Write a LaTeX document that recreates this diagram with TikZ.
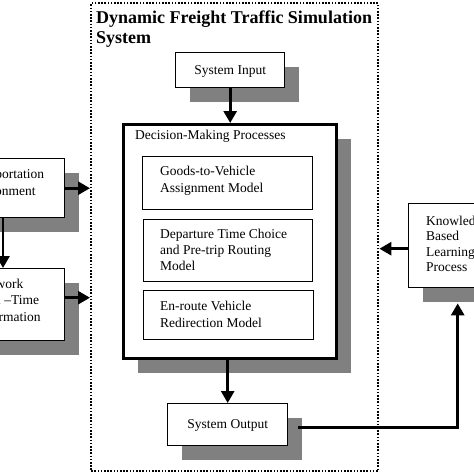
\documentclass[tikz,border=0pt]{standalone}
\usepackage{fontspec}
\setmainfont{Liberation Serif}
\usetikzlibrary{arrows.meta,shadows}
\definecolor{shade}{gray}{0.5}
\newcommand{\stk}[2]{\vtop{\baselineskip=#1\relax #2}}
\begin{document}
\begin{tikzpicture}[x=1pt,y=-1pt,
  box/.style={draw, line width=1.4pt, fill=white, inner sep=0pt, anchor=north west,
    drop shadow={shadow xshift=14pt, shadow yshift=-14pt, fill=shade, opacity=1}},
  ibox/.style={draw, line width=1.4pt, fill=white, inner sep=0pt, anchor=north west},
  txt/.style={inner sep=0pt, anchor=base west, font=\fontsize{13.5}{16.5}\selectfont},
  arr/.style={line width=2.8pt, -{Triangle[width=13pt,length=12pt]}},
  frm/.style={draw, line width=2.4pt, dash pattern=on 1.6pt off 1.6pt, inner sep=0pt, anchor=north west}]
\useasboundingbox (0,0) rectangle (474,474);
\clip (0,0) rectangle (474,474);
\fill[white] (0,0) rectangle (474,474);
% frame
\node[frm, minimum width=287pt, minimum height=468pt] (frame) at (90,2) {};
\node[inner sep=0pt, anchor=base west, font=\bfseries\fontsize{18}{20}\selectfont] (title) at (96,23)
  {\stk{20pt}{\hbox{Dynamic Freight Traffic Simulation}\hbox{System}}};
% system input
\node[box, minimum width=109pt, minimum height=35pt, font=\fontsize{13.5}{16.5}\selectfont] (sysin) at (175,52) {};
\node[txt, anchor=center] (sysint) at ([yshift=-1pt]sysin.center) {System Input};
% decision box
\node[box, line width=3pt, minimum width=213pt, minimum height=234pt] (dmp) at (122,123) {};
\node[txt] (dmpt) at (135,139) {Decision-Making Processes};
\node[ibox, minimum width=170pt, minimum height=53pt] (goods) at (142,156) {};
\node[txt] (goodst) at (160,175) {\stk{17pt}{\hbox{Goods-to-Vehicle}\hbox{Assignment Model}}};
\node[ibox, minimum width=169pt, minimum height=62pt] (dep) at (143,219) {};
\node[txt] (dept) at (160,238) {\stk{16pt}{\hbox{Departure Time Choice}\hbox{and Pre-trip Routing}\hbox{Model}}};
\node[ibox, minimum width=170pt, minimum height=49pt] (enr) at (143,290) {};
\node[txt] (enrt) at (160,310) {\stk{17pt}{\hbox{En-route Vehicle}\hbox{Redirection Model}}};
% system output
\node[box, minimum width=120pt, minimum height=42pt] (sysout) at (167,403) {};
\node[txt, anchor=center] (sysoutt) at ([yshift=-1pt]sysout.center) {System Output};
% left boxes
\node[box, minimum width=124pt, minimum height=59pt] (trans) at (-60,158) {};
\node[txt] (transt) at (-35,178) {\stk{17pt}{\hbox{Transportation}\hbox{Environment}}};
\node[box, minimum width=124pt, minimum height=72pt] (net) at (-60,268) {};
\node[txt] (nett) at (-24,288) {\stk{16.5pt}{\hbox{Network}\hbox{Real –Time}\hbox{Information}}};
% knowledge box
\node[box, minimum width=98pt, minimum height=84pt] (know) at (408,203) {};
\node[txt] (knowt) at (426,225) {\stk{15.5pt}{\hbox{Knowledge}\hbox{Based}\hbox{Learning}\hbox{Process}}};
% connectors
\coordinate (vx) at (3,0);
\draw[arr] (sysin.south) -- (sysin.south |- dmp.north);
\draw[arr] (sysout.north |- dmp.south) -- (sysout.north);
\draw[arr] (trans.east) -- (trans.east -| frame.west);
\draw[arr] ([yshift=7pt]net.east) -- ([yshift=7pt]net.east -| frame.west);
\draw[arr] (trans.south -| vx) -- (net.north -| vx);
\draw[arr] ([yshift=-3pt]know.west) -- ([yshift=-3pt]know.west -| frame.east);
\draw[line width=2.8pt, -{Triangle[width=13pt,length=12pt]}, line join=miter]
  ([xshift=10pt,yshift=-3pt]sysout.east) -| ([yshift=-15pt]know.south);
\end{tikzpicture}
\end{document}
